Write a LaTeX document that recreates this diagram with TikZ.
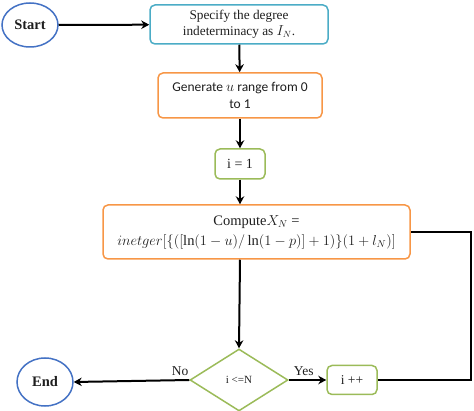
\documentclass[tikz,border=0pt]{standalone}
\usepackage{fontspec}
\setmainfont{Liberation Serif}
\newfontfamily\calfont{Carlito}
\usetikzlibrary{shapes.geometric,arrows.meta}
\definecolor{cblue}{RGB}{68,114,196}
\definecolor{ccyan}{RGB}{75,172,198}
\definecolor{corange}{RGB}{247,150,70}
\definecolor{cgreen}{RGB}{155,187,89}
\definecolor{ctext}{RGB}{30,30,30}
\tikzset{
  term/.style={ellipse,draw=cblue,line width=1.5pt,inner sep=0pt,text=ctext,
    font=\fontsize{14.5}{16}\selectfont\bfseries},
  procbox/.style={rectangle,rounded corners=5pt,line width=1.5pt,inner sep=0pt,
    align=center,text=ctext},
  arr/.style={line width=2pt,-{Stealth[length=8pt,width=8.5pt]}},
  loopline/.style={line width=2.2pt},
  lbl/.style={font=\fontsize{13.5}{15}\selectfont,text=ctext}
}
\begin{document}
\begin{tikzpicture}[x=1pt,y=-1pt]
\useasboundingbox (0,0) rectangle (474,411);
\node[term,minimum width=56pt,minimum height=44pt] (start) at (30,25) {Start};
\node[procbox,draw=ccyan,minimum width=178pt,minimum height=39pt,
  font=\fontsize{13.3}{16}\selectfont] (spec) at (239,24.5)
  {Specify the degree\\indeterminacy as $I_N$.};
\node[procbox,draw=corange,minimum width=164pt,minimum height=45pt,
  font=\calfont\fontsize{13.5}{17}\selectfont] (gen) at (240,95.5)
  {Generate $u$ range from 0\\to 1};
\node[procbox,draw=cgreen,minimum width=50pt,minimum height=30pt,
  font=\fontsize{14}{16}\selectfont] (init) at (240,164) {i = 1};
\node[procbox,draw=corange,minimum width=307pt,minimum height=54pt,
  font=\fontsize{14.5}{19}\selectfont] (comp) at (256.5,232)
  {Compute$X_N$ =\\[1pt]$inetger[\{([\ln(1-u)/\ln(1-p)]+1)\}(1+l_N)]$};
\node[diamond,draw=cgreen,line width=1.5pt,minimum width=98pt,minimum height=62pt,
  inner sep=0pt,aspect=1.58,font=\fontsize{11}{13}\selectfont,text=ctext] (dec) at (239,380) {i <=N};
\node[term,minimum width=56pt,minimum height=48pt] (end) at (45,382) {End};
\node[procbox,draw=cgreen,minimum width=50pt,minimum height=29pt,
  font=\fontsize{13.5}{15}\selectfont] (inc) at (352,380) {i ++};
\coordinate (rc) at (471,0);
\draw[arr] (start) -- (spec);
\draw[arr] (spec) -- (gen);
\draw[arr] (gen) -- (init);
\draw[arr] (init) -- (init |- comp.north);
\draw[arr] (init |- comp.south) -- (dec.north);
\draw[arr] (dec.west) -- (end.east) node[lbl,pos=0.08,above] {No};
\draw[arr] (dec.east) -- (inc.west) node[lbl,pos=0.4,above] {Yes};
\draw[loopline] (inc.east) -- (inc.east -| rc) |- (comp.east);
\end{tikzpicture}
\end{document}
